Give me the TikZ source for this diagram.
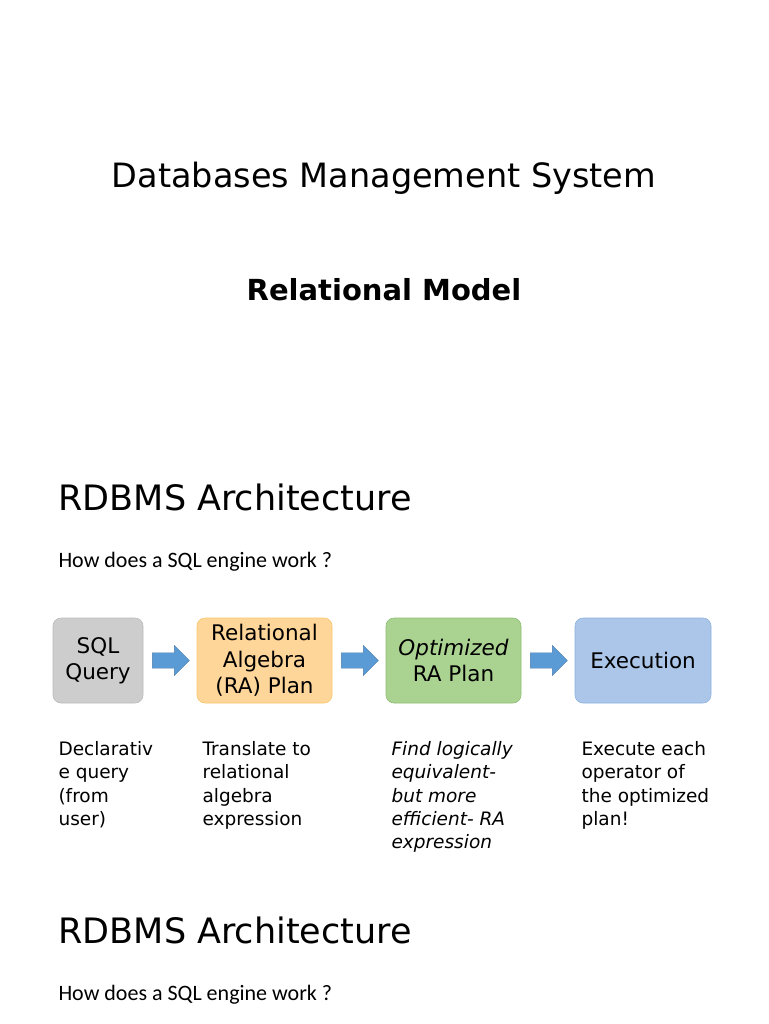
\documentclass[tikz,border=0pt]{standalone}
\usepackage{fontspec}
\setmainfont{DejaVu Sans}
\newfontfamily\carlitofont{Carlito}
\usetikzlibrary{shapes.arrows}
\definecolor{bluearr}{HTML}{5B9BD5}
\definecolor{cgray}{HTML}{CDCDCD}\definecolor{cgrayd}{HTML}{BBBBBB}
\definecolor{corange}{HTML}{FFD699}\definecolor{corangeD}{HTML}{F8C56A}
\definecolor{cgreen}{HTML}{AAD291}\definecolor{cgreenD}{HTML}{8DBF72}
\definecolor{cblue}{HTML}{ABC6E9}\definecolor{cblueD}{HTML}{8FB1DD}
\begin{document}
\begin{tikzpicture}[x=1pt,y=-1pt,
  box/.style={rounded corners=8pt,minimum width=#1,minimum height=85pt,align=center,font=\fontsize{21.5}{26.5}\selectfont,line width=0.6pt,inner sep=1pt},
  arr/.style={single arrow,fill=bluearr,draw=bluearr!80!black,line width=0.4pt,minimum width=30pt,single arrow head extend=3pt,minimum height=37pt,inner sep=3pt},
  desc/.style={anchor=north west,align=left,font=\fontsize{18.5}{23.3}\selectfont},
  h1/.style={anchor=west,font=\fontsize{35}{40}\selectfont},
  h2/.style={anchor=west,font=\carlitofont\fontsize{22}{26}\selectfont}]
\useasboundingbox (0,0) rectangle (768,1024);
\node (title) at (384,178) {\fontsize{33.5}{38}\selectfont Databases Management System};
\node (sub) at (384,290) {\fontsize{29}{34}\selectfont\bfseries Relational Model};
\node[h1] (h1a) at (55,497) {RDBMS Architecture};
\node[h2] (h2a) at (55,562) {How does a SQL engine work ?};
\node[box=90pt,fill=cgray,draw=cgrayd] (b1) at (98,660.5) {SQL\\Query};
\node[box=135pt,fill=corange,draw=corangeD] (b2) at (264.5,660.5) {Relational\\Algebra\\(RA) Plan};
\node[box=135pt,fill=cgreen,draw=cgreenD] (b3) at (453.5,660.5) {\textit{Optimized}\\RA Plan};
\node[box=136pt,fill=cblue,draw=cblueD] (b4) at (643,660.5) {Execution};
\node[arr] (a1) at (167,660.5) {};
\node[arr] (a2) at (356,660.5) {};
\node[arr] (a3) at (545,660.5) {};
\node[desc] (d1) at (55,738) {Declarativ\\e query\\(from\\user)};
\node[desc] (d2) at (199,738) {Translate to\\relational\\algebra\\expression};
\node[desc,font=\fontsize{18.5}{23.3}\selectfont\itshape] (d3) at (388,738) {Find logically\\equivalent-\\but more\\efficient- RA\\expression};
\node[desc] (d4) at (578,738) {Execute each\\operator of\\the optimized\\plan!};
\node[h1] (h1b) at (55,930) {RDBMS Architecture};
\node[h2] (h2b) at (55,995) {How does a SQL engine work ?};
\end{tikzpicture}
\end{document}
